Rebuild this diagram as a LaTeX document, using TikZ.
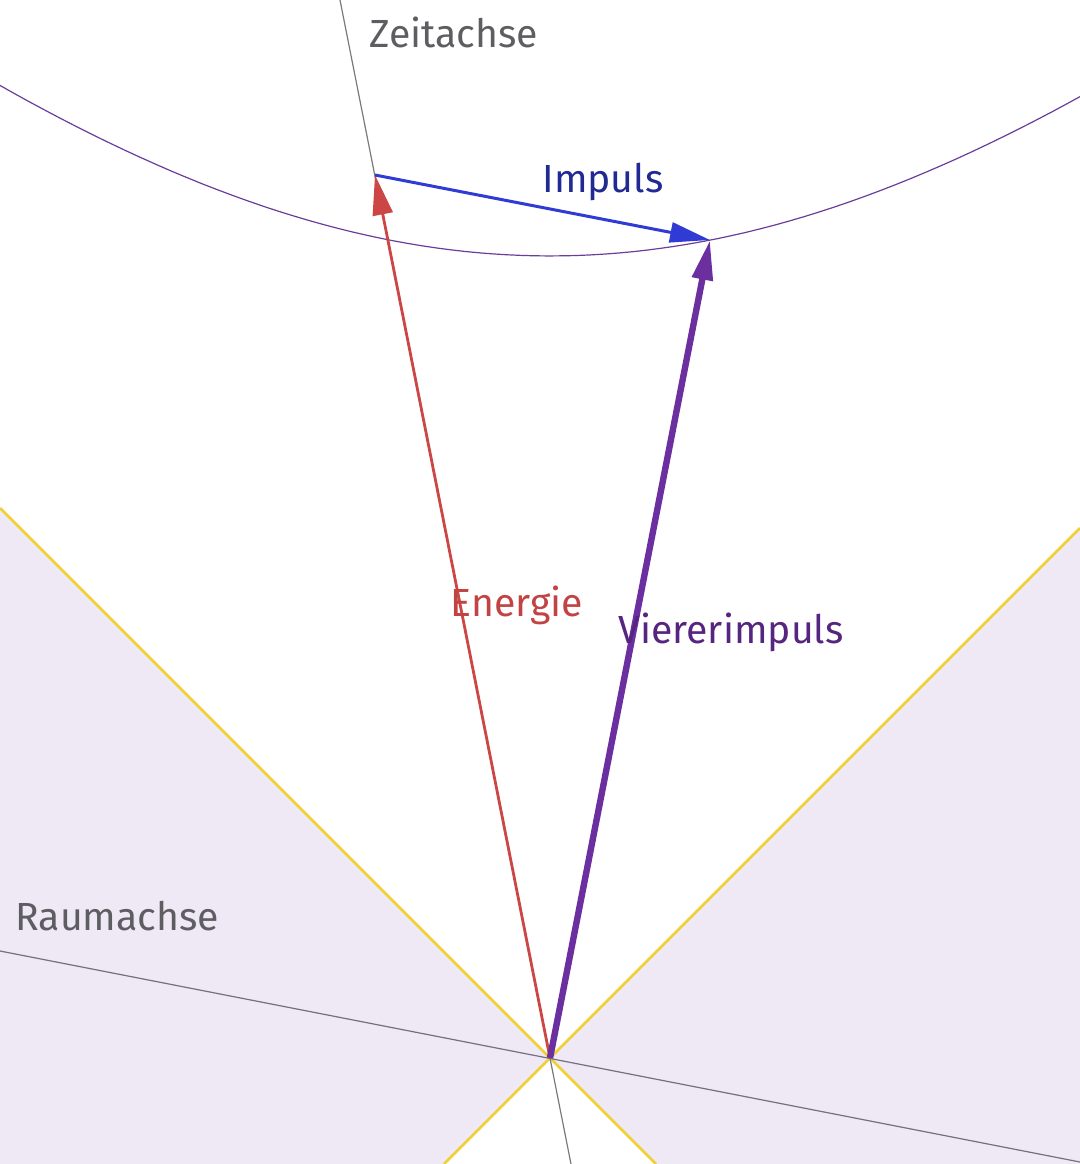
\documentclass[tikz,border=0pt]{standalone}
\usepackage{fontspec}
\setmainfont{Fira Sans}
\usetikzlibrary{arrows.meta}

\definecolor{conefill}{HTML}{EEE9F5}
\definecolor{coneline}{HTML}{F0D035}
\definecolor{axisgray}{HTML}{7A7A7A}
\definecolor{labelgray}{HTML}{5E5E62}
\definecolor{hypcol}{HTML}{6A3D9A}
\definecolor{energyred}{HTML}{CC4646}
\definecolor{impulsblue}{HTML}{2F3BD2}
\definecolor{viererpurple}{HTML}{6B2FA0}

\tikzset{
	label text/.style={font=\fontsize{19.6}{22}\selectfont, inner sep=0pt},
	vec/.style={-{Triangle[length=20pt,width=10pt]}},
}

\begin{document}
\begin{tikzpicture}[x=0.5pt,y=-0.5pt]
	\useasboundingbox (0,0) rectangle (1080,1164);
	\clip (0,0) rectangle (1080,1164);

	\coordinate (O) at (550,1058);
	\coordinate (E) at (375,175);
	\coordinate (P) at (710,240);

	% spacelike regions
	\fill [conefill] (0,508) -- (O) -- (444,1164) -- (0,1164) -- cycle;
	\fill [conefill] (1080,528) -- (O) -- (656,1164) -- (1080,1164) -- cycle;

	% light cone
	\draw [coneline, line width = 1.4pt] (0,508) -- (O) -- (1080,528);
	\draw [coneline, line width = 1.4pt] (444,1164) -- (O) -- (656,1164);

	% axes
	\draw [axisgray, line width = 0.6pt] (340,0) -- (571,1164);
	\draw [axisgray!80!hypcol, line width = 0.6pt] (0,951) -- (1080,1162);
	\node [label text, labelgray, anchor=west] (zeit) at (369,32) {Zeitachse};
	\node [label text, labelgray, anchor=west] (raum) at (15,916) {Raumachse};

	% hyperbola
	\draw [hypcol, line width = 0.6pt, domain=-0.7:0.68, samples=80, variable=\u]
		plot ({550+802*sinh(\u)},{1058-802*cosh(\u)});

	% vectors
	\draw [vec, energyred, line width = 1.4pt] (O) -- (E);
	\draw [vec, impulsblue, line width = 1.5pt] (E) -- (P);
	\draw [vec, viererpurple, line width = 3.2pt] (O) -- (P);

	\node [label text, energyred!95!black] (energie) at (517,605) {Energie};
	\node [label text, impulsblue!70!black] (impuls) at (603,182) {Impuls};
	\node [label text, viererpurple!80!black] (vierer) at (731,632) {Viererimpuls};
\end{tikzpicture}
\end{document}
